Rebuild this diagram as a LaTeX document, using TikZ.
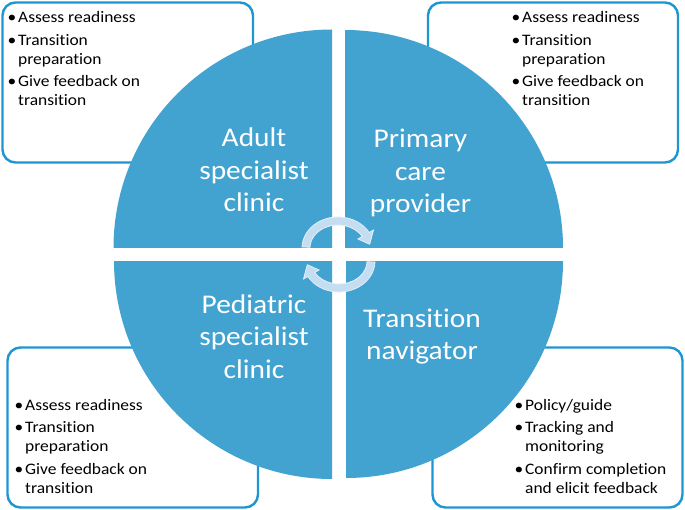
\documentclass[tikz,border=0pt]{standalone}
\usepackage{fontspec}
\setmainfont{Carlito}[FakeStretch=1.09,Ligatures=NoCommon]
\usetikzlibrary{calc}
\definecolor{quadblue}{RGB}{66,162,208}
\definecolor{boxblue}{RGB}{30,150,210}
\definecolor{arrowfill}{RGB}{196,221,240}
\definecolor{arrowedge}{RGB}{228,240,249}
\newcommand\bul{\leavevmode\llap{\textbullet\hspace{2bp}}}
\begin{document}
\begin{tikzpicture}[x=1bp,y=-1bp,
  infobox/.style={draw=boxblue, line width=2.4bp, rounded corners=13bp, fill=white},
  quad/.style={fill=quadblue},
  boxtext/.style={anchor=base west, inner sep=0pt, font=\fontsize{16bp}{19bp}\selectfont},
  quadlabel/.style={anchor=base, inner sep=0pt, text=white, font=\fontsize{27bp}{32.5bp}\selectfont},
  cyclearrow/.style={fill=arrowfill, draw=arrowedge, line width=0.8bp}]
\fill[white] (0,0) rectangle (685,510);
\useasboundingbox (0,0) rectangle (685,510);

% side boxes
\draw[infobox] (2.5,2.5) rectangle (253,162.5);
\draw[infobox] (428,2.5) rectangle (678,162.5);
\draw[infobox] (7.5,347.5) rectangle (258,507.5);
\draw[infobox] (432.5,347.5) rectangle (682.5,507.5);

% quadrants
\begin{scope}\clip (332,248) rectangle (100,20); \fill[quad] (332,248) circle[radius=218.5]; \end{scope}
\begin{scope}\clip (345,248) rectangle (580,20); \fill[quad] (345,248) circle[radius=218]; \end{scope}
\begin{scope}\clip (332,261) rectangle (100,490); \fill[quad] (332,261) circle[radius=218]; \end{scope}
\begin{scope}\clip (346,261) rectangle (580,490); \fill[quad] (346,261) circle[radius=217]; \end{scope}

% box texts
\node[boxtext] (tltext) at (18,23) {\parbox[t]{230bp}{\raggedright
  \bul Assess readiness\\[3.5bp]\bul Transition\\preparation\\[3.5bp]\bul Give feedback on\\transition}};
\node[boxtext] (trtext) at (522,23) {\parbox[t]{150bp}{\raggedright
  \bul Assess readiness\\[3.5bp]\bul Transition\\preparation\\[3.5bp]\bul Give feedback on\\transition}};
\node[boxtext] (bltext) at (25,410) {\parbox[t]{220bp}{\raggedright
  \bul Assess readiness\\[3.5bp]\bul Transition\\preparation\\[3.5bp]\bul Give feedback on\\transition}};
\node[boxtext] (brtext) at (525,410) {\parbox[t]{155bp}{\raggedright
  \bul Policy/guide\\[3.5bp]\bul Tracking and\\monitoring\\[3.5bp]\bul Confirm completion\\and elicit feedback}};

% quadrant labels
\node[quadlabel] (adult) at (254,147) {\parbox[t]{200bp}{\centering Adult\\specialist\\clinic}};
\node[quadlabel] (primary) at (420.5,148) {\parbox[t]{200bp}{\centering Primary\\care\\provider}};
\node[quadlabel] (pediatric) at (254,313) {\parbox[t]{200bp}{\centering Pediatric\\specialist\\clinic}};
\node[quadlabel] (navigator) at (422,327) {\parbox[t]{200bp}{\centering Transition\\navigator}};

% cycle arrows
\coordinate (c1) at (338,248);
\coordinate (c2) at (339,261);
\draw[cyclearrow] ($(c1)+(-178:36 and 31)$) arc[start angle=-178, end angle=-30, x radius=36, y radius=31]
  -- ($(c1)+(-30:41 and 36)$) -- ($(c1)+(-8:32 and 27)$) -- ($(c1)+(-30:23 and 18)$)
  -- ($(c1)+(-30:28 and 23)$) arc[start angle=-30, end angle=-178, x radius=28, y radius=23] -- cycle;
\draw[cyclearrow] ($(c2)+(2:36 and 31)$) arc[start angle=2, end angle=150, x radius=36, y radius=31]
  -- ($(c2)+(150:41 and 36)$) -- ($(c2)+(172:32 and 27)$) -- ($(c2)+(150:23 and 18)$)
  -- ($(c2)+(150:28 and 23)$) arc[start angle=150, end angle=2, x radius=28, y radius=23] -- cycle;
\end{tikzpicture}
\end{document}
